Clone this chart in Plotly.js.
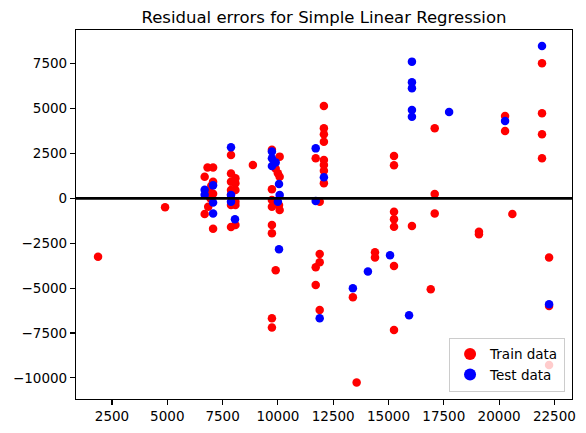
<!DOCTYPE html>
<html>
<head>
<meta charset="utf-8">
<script src="https://cdn.plot.ly/plotly-3.0.1.min.js"></script>
<style>html,body{margin:0;padding:0;background:#fff;}#chart{width:586px;height:433px;}</style>
</head>
<body>
<div id="chart"></div>
<script>
// Train data residuals (red)
const trainX = [1870, 4900,
  6690, 6820, 7070, 7070, 6990, 6900, 7070, 6950, 6850, 6690, 7070,
  7880, 7880, 8080, 7880, 8080, 7880, 8080, 7880, 8080, 7880, 8080, 7880, 8080,
  8870,
  9730, 10080, 9900, 10000, 10080, 9730, 9730, 10050, 9730, 10080, 9730, 9730, 9900, 9730, 9730,
  11890, 12080, 12080, 12080, 12080, 11710, 12080, 12080, 12080, 12080,
  11890, 11890, 11710, 11710, 11890,
  13390, 13560, 14390, 14390,
  15250, 15250, 15250, 15250, 15250, 15250, 15250,
  16060, 16910, 17090, 17090, 17090,
  19090, 19090, 20270, 20270, 20600,
  21940, 21940, 21940, 21940, 22260, 22260, 22260];
const trainY = [-3250, -500,
  1200, 1720, 1720, 920, 700, 420, 250, 0, -470, -870, -1700,
  2410, 1380, 1110, 920, 840, 460, 460, 200, -190, -370, -370, -1600, -1490,
  1850,
  2700, 2320, 1640, 1390, 1200, 500, -100, -370, -470, -650, -1490, -1950, -4000, -6680, -7190,
  -190, 840, 1540, 1850, 2130, 2230, 3150, 3560, 3900, 5140,
  -3100, -3560, -3840, -4830, -6220,
  -5510, -10250, -3010, -3290,
  2360, 1840, -750, -1160, -1580, -3770, -7330,
  -1540, -5070, 3900, 240, -840,
  -1860, -2000, 4580, 3750, -870,
  7520, 4730, 3560, 2230, -3290, -5990, -9280];

// Test data residuals (blue)
const testX = [6690, 6690, 7070, 7070, 7070,
  7880, 7880, 7880, 8060,
  9730, 9730, 9900, 9730, 10050, 10080, 10000, 10050,
  11710, 12080, 11710, 11890,
  13390, 14070, 15070, 15930,
  16060, 16060, 16060, 16060, 16060,
  17740, 20270, 21940, 22260];
const testY = [480, 200, 720, -240, -840,
  2840, 180, -190, -1170,
  2600, 2230, 2000, 1800, 800, 180, -190, -2840,
  2780, 1170, -150, -6680,
  -5010, -4070, -3170, -6510,
  7610, 6460, 6130, 4920, 4540,
  4810, 4300, 8480, -5900];

const xTickVals = [2500, 5000, 7500, 10000, 12500, 15000, 17500, 20000, 22500];
const xTickText = ["2500", "5000", "7500", "10000", "12500", "15000", "17500", "20000", "22500"];
const yTickVals = [-10000, -7500, -5000, -2500, 0, 2500, 5000, 7500];
const yTickText = ["\u221210000", "\u22127500", "\u22125000", "\u22122500", "0", "2500", "5000", "7500"];
const zeroLevel = 0;

const font = "DejaVu Sans, sans-serif";
const traces = [
  {x: trainX, y: trainY, type: "scatter", mode: "markers", name: "Train data",
   marker: {color: "#ff0000", size: 8.5, line: {width: 0}}},
  {x: testX, y: testY, type: "scatter", mode: "markers", name: "Test data",
   marker: {color: "#0000ff", size: 8.5, line: {width: 0}}}
];
const axisCommon = {
  showgrid: false, zeroline: false, showline: true, mirror: true,
  linecolor: "#000", linewidth: 1.1, ticks: "outside", ticklen: 5, tickwidth: 1.1,
  tickcolor: "#000", tickfont: {family: font, size: 13.5, color: "#000"}, tickmode: "array"
};
const layout = {
  width: 586, height: 433, autosize: false,
  margin: {l: 76, r: 14, t: 30, b: 34, pad: 0},
  paper_bgcolor: "#fff", plot_bgcolor: "#fff",
  title: {text: "Residual errors for Simple Linear Regression", font: {family: font, size: 16.5, color: "#000"},
          xref: "paper", x: 0.5, xanchor: "center", yref: "container", y: 1 - 17/433, yanchor: "middle"},
  xaxis: Object.assign({}, axisCommon, {range: [873, 23296], tickvals: xTickVals, ticktext: xTickText}),
  yaxis: Object.assign({}, axisCommon, {range: [-11175, 9371], tickvals: yTickVals, ticktext: yTickText}),
  showlegend: true,
  legend: {x: 0.986, xanchor: "right", y: 0.02, yanchor: "bottom", bgcolor: "rgba(255,255,255,0.8)",
           bordercolor: "#cccccc", borderwidth: 1, font: {family: font, size: 13.5, color: "#000"},
           tracegroupgap: 0, itemsizing: "constant"},
  shapes: [{type: "line", xref: "paper", x0: 0, x1: 1, yref: "y", y0: zeroLevel, y1: zeroLevel,
            line: {color: "#000", width: 2.8}, layer: "above"}]
};
Plotly.newPlot("chart", traces, layout, {staticPlot: true, displayModeBar: false});
</script>
</body>
</html>
